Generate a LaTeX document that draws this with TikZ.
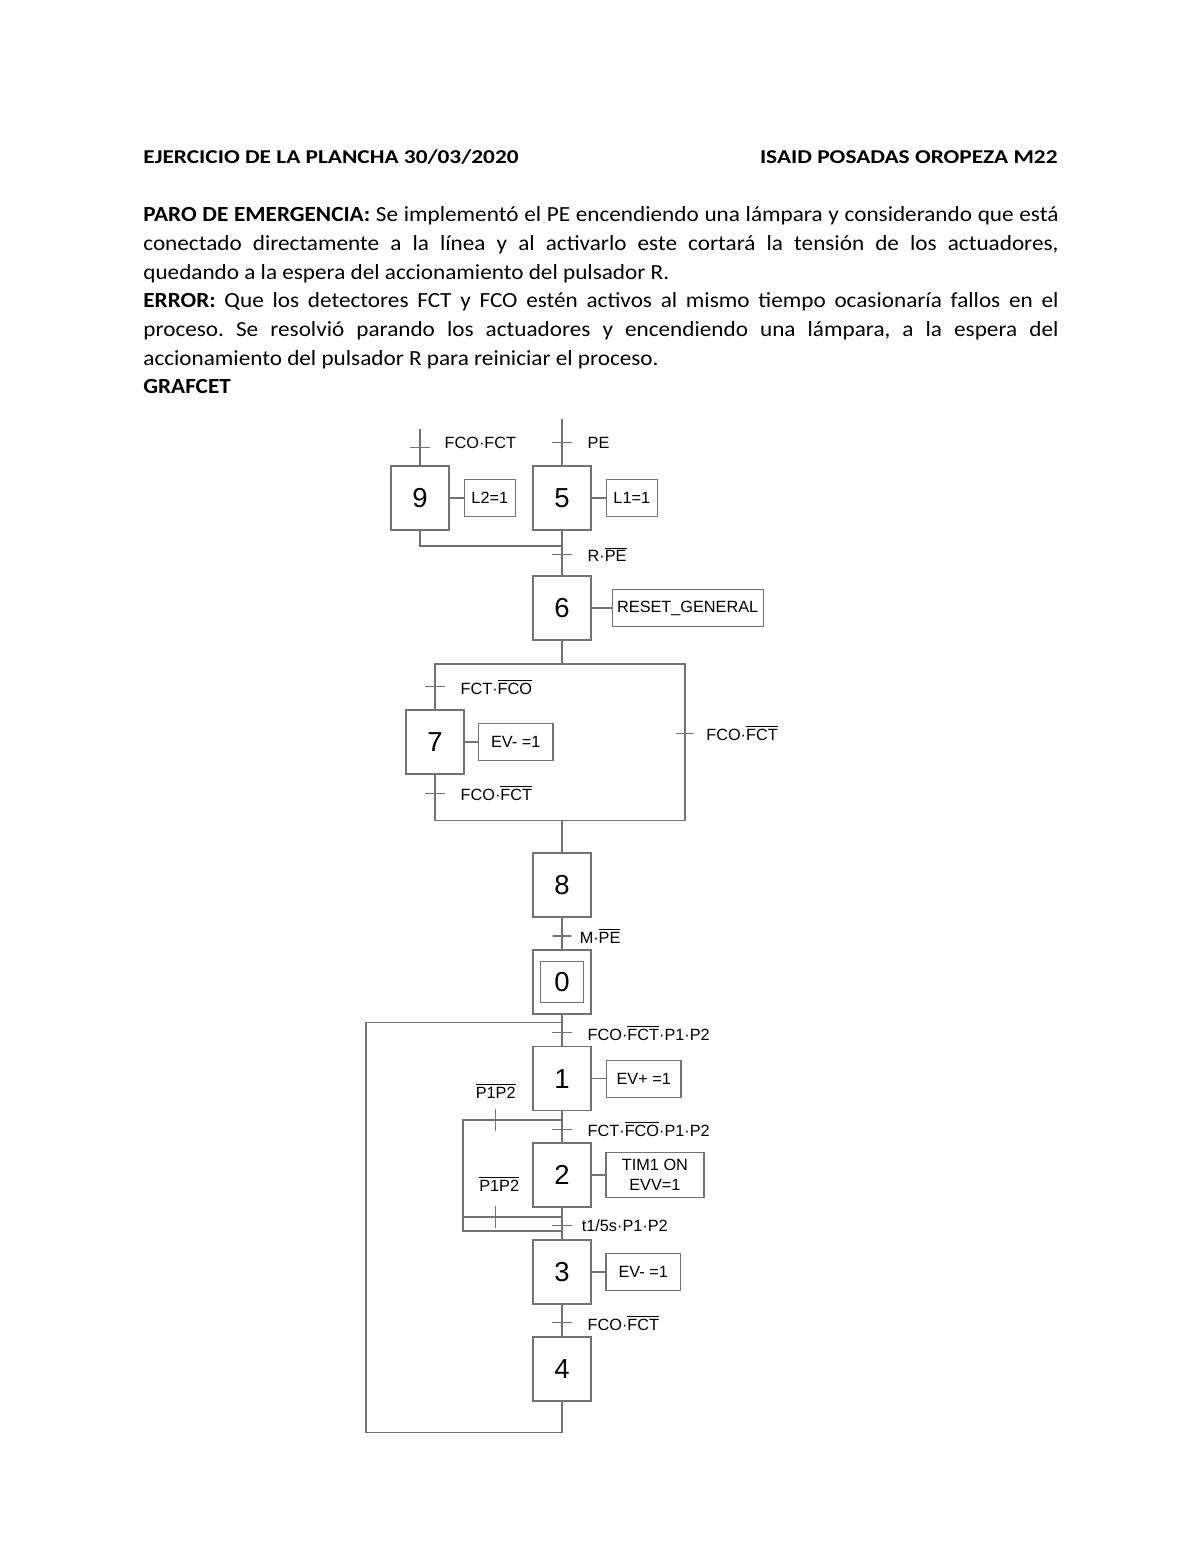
\documentclass[tikz,border=0pt]{standalone}
\usepackage{fontspec}
\setmainfont[FakeStretch=1.075]{Carlito}
\newfontfamily\hdrfont[FakeStretch=1.19]{Carlito}
\newfontfamily\arialfont{Liberation Sans}
\usetikzlibrary{positioning}

\newcommand{\ovl}[1]{$\overline{\mbox{#1}}$}

\begin{document}
\begin{tikzpicture}[
    x=0.51pt, y=-0.51pt,
    etapa/.style={draw=black!55, line width=0.6pt, minimum width=29.6pt, minimum height=32.6pt, inner sep=0pt, font=\arialfont\fontsize{14}{14}\selectfont},
    accion/.style={draw=black!55, line width=0.6pt, minimum height=18.8pt, inner sep=1pt, align=center, font=\arialfont\fontsize{8.3}{10}\selectfont},
    cond/.style={inner sep=0pt, font=\arialfont\fontsize{8.3}{10}\selectfont},
    trans/.style={draw=black!55, line width=0.6pt, minimum width=10.2pt, minimum height=0pt, inner sep=0pt},
    vtrans/.style={draw=black!55, line width=0.6pt, minimum width=0pt, minimum height=11.2pt, inner sep=0pt},
    ln/.style={draw=black!55, line width=0.6pt}
]
\useasboundingbox (0,0) rectangle (1200,1553);

% texto
\node[anchor=base west, inner sep=0pt] (tit) at (143,164) {\hdrfont\bfseries EJERCICIO DE LA PLANCHA 30/03/2020};
\node[anchor=base east, inner sep=0pt] (aut) at (1058,164) {\hdrfont\bfseries ISAID POSADAS OROPEZA M22};
\node[anchor=base west, inner sep=0pt, text width=466.7pt, align=justify, font=\fontsize{11}{14.6}\selectfont] (txt) at (143,222) {\frenchspacing
\textbf{PARO DE EMERGENCIA:} Se implementó el PE encendiendo una lámpara y considerando que está\linebreak
conectado directamente a la línea y al activarlo este cortará la tensión de los actuadores,\linebreak
quedando a la espera del accionamiento del pulsador R.\\
\textbf{ERROR:} Que los detectores FCT y FCO estén activos al mismo tiempo ocasionaría fallos en el\linebreak
proceso. Se resolvió parando los actuadores y encendiendo una lámpara, a la espera del\linebreak
accionamiento del pulsador R para reiniciar el proceso.\\
\textbf{GRAFCET}};

% etapas
\node[etapa] (s9) at (420,498) {9};
\node[etapa] (s5) at (562,498) {5};
\node[etapa] (s6) at (562,608) {6};
\node[etapa] (s7) at (435,742) {7};
\node[etapa] (s8) at (562,885) {8};
\node[etapa] (s0) at (562,982) {};
\node[etapa, minimum width=21.6pt, minimum height=21.1pt] (s0i) at (s0) {0};
\node[etapa] (s1) at (562,1078.7) {1};
\node[etapa] (s2) at (562,1175) {2};
\node[etapa] (s3) at (562,1272) {3};
\node[etapa] (s4) at (562,1369) {4};

% acciones
\node[accion, right=7.3pt of s9, minimum width=25.8pt] (a9) {L2=1};
\node[accion, right=7.3pt of s5, minimum width=25.8pt] (a5) {L1=1};
\node[accion, right=10.2pt of s6, minimum width=77pt] (a6) {RESET\_GENERAL};
\node[accion, right=6.8pt of s7, minimum width=38pt] (a7) {EV- =1};
\node[accion, right=7.3pt of s1, minimum width=38pt] (a1) {EV+ =1};
\node[accion, right=7pt of s2, minimum width=50pt, minimum height=23.3pt] (a2) {TIM1 ON\\EVV=1};
\node[accion, right=7pt of s3, minimum width=38pt] (a3) {EV- =1};

% transiciones
\coordinate (e9) at (420,429);
\coordinate (e5) at (562,419);
\node[trans] (t9) at (420,447.7) {};
\node[trans] (t5) at (562,442.7) {};
\node[trans] (t6) at (562,554.3) {};
\coordinate (j6) at (562,546);

\coordinate (c1) at (435,664);
\coordinate (c2) at (685,664);
\coordinate (c3) at (685,820.7);
\coordinate (c4) at (435,820.7);
\coordinate (m1) at (562,664);
\coordinate (m2) at (562,820.7);
\node[trans] (t7a) at (435,686.7) {};
\node[trans] (t7b) at (435,793.3) {};
\node[trans, minimum width=8.8pt] (t7c) at (685,733.3) {};

\node[trans, minimum width=9.5pt] (t0) at (562,936) {};
\node[trans] (t1) at (562,1032.7) {};
\node[trans] (t2) at (562,1129.3) {};
\node[trans] (t3) at (562,1225.5) {};
\node[trans] (t4) at (562,1322.7) {};

% receptividades
\node[cond, right=7pt of t9, yshift=2.2pt] (l9) {FCO·FCT};
\node[cond, right=7.5pt of t5] (l5) {PE};
\node[cond, right=7.5pt of t6] (l6) {R·\ovl{PE}};
\node[cond, right=7.5pt of t7a] (l7a) {FCT·\ovl{FCO}};
\node[cond, right=7.5pt of t7b] (l7b) {FCO·\ovl{FCT}};
\node[cond, right=6pt of t7c] (l7c) {FCO·\ovl{FCT}};
\node[cond, right=3.8pt of t0] (l0) {M·\ovl{PE}};
\node[cond, right=7.5pt of t1] (l1) {FCO·\ovl{FCT}·P1·P2};
\node[cond, right=7.5pt of t2] (l2) {FCT·\ovl{FCO}·P1·P2};
\node[cond, right=4.5pt of t3] (l3) {t1/5s·P1·P2};
\node[cond, right=7.5pt of t4] (l4) {FCO·\ovl{FCT}};

% salto P1P2
\coordinate (b1) at (562,1120);
\coordinate (b2) at (463,1120);
\coordinate (b3) at (463,1217);
\coordinate (b4) at (562,1217);
\coordinate (b5) at (463,1231);
\coordinate (b6) at (562,1231);
\node[vtrans] (p1) at (495.7,1120) {};
\node[vtrans] (p2) at (495.7,1217) {};
\node[cond, above=5pt of p1] (lp1) {\ovl{P1P2}};
\node[cond, above=7pt of p2, xshift=1.8pt] (lp2) {\ovl{P1P2}};

% retorno
\coordinate (r1) at (562,1432.7);
\coordinate (r2) at (366,1022.7);
\coordinate (r3) at (562,1022.7);

% uniones
\draw[ln] (e9) -- (t9) -- (s9);
\draw[ln] (e5) -- (t5) -- (s5);
\draw[ln] (s9) |- (j6);
\draw[ln] (s5) -- (t6) -- (s6);
\draw[ln] (s6) -- (m1);
\draw[ln] (m1) -- (c1) -- (t7a) -- (s7) -- (t7b) -- (c4) -- (c3) -- (t7c) -- (c2) -- (m1);
\draw[ln] (m2) -- (s8) -- (t0) -- (s0) -- (t1) -- (s1) -- (t2) -- (s2) -- (t3) -- (s3) -- (t4) -- (s4);
\draw[ln] (b1) -- (p1) -- (b2) -- (b5) -- (b6);
\draw[ln] (b3) -- (p2) -- (b4);
\draw[ln] (s4) -- (r1) -| (r2) -- (r3);
\foreach \s in {9,5,6,7,1,2,3}
    \draw[ln] (s\s) -- (a\s);
\end{tikzpicture}
\end{document}
